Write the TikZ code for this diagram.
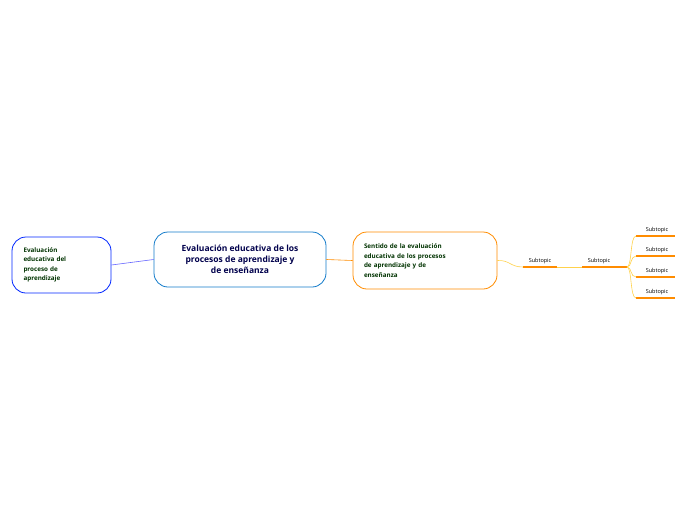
\documentclass[tikz,border=0pt]{standalone}
\usepackage{fontspec}
\setmainfont{Open Sans}
\begin{document}
\begin{tikzpicture}[x=1pt,y=-1pt,
 box/.style={draw,rounded corners=14pt,line width=0.8pt,fill=white},
 sub/.style={font=\fontsize{5.5}{6}\selectfont,inner sep=1pt,anchor=south},
 ul/.style={draw=orange!90!yellow,line width=1.3pt},
 cn/.style={draw=orange!50!yellow!70,line width=0.6pt}]
\useasboundingbox (0,0) rectangle (696,520);
\node[box,draw=cyan!60!blue,minimum width=172pt,minimum height=55pt,align=center,
 font=\bfseries\fontsize{8.5}{11}\selectfont,text=blue!30!black] (m) at (240,259.5)
 {Evaluación educativa de los\\procesos de aprendizaje y\\de enseñanza};
\node[box,draw=blue!85!cyan,minimum width=99pt,minimum height=56pt,text width=76pt,align=left,
 font=\bfseries\fontsize{6.3}{9.5}\selectfont,text=green!20!black] (l) at (61.5,265)
 {Evaluación\\educativa del\\proceso de\\aprendizaje};
\node[box,draw=orange!90!yellow,minimum width=144pt,minimum height=57pt,text width=122pt,align=left,
 font=\bfseries\fontsize{6.3}{9.5}\selectfont,text=green!20!black] (o) at (425,260.5)
 {Sentido de la evaluación\\educativa de los procesos\\de aprendizaje y de\\enseñanza};
\draw[blue!60,line width=0.6pt] (m.west) -- (l.east);
\draw[orange!90!yellow,line width=0.6pt] (m.east) -- (o.west);
\coordinate (s1a) at (523,267); \coordinate (s1b) at (557,267);
\coordinate (s2a) at (582,267); \coordinate (s2b) at (627,267);
\draw[ul] (s1a) -- (s1b); \node[sub] (t1) at (540,265) {Subtopic};
\draw[ul] (s2a) -- (s2b); \node[sub] (t2) at (599,265) {Subtopic};
\draw[cn] (o.east) .. controls (510,260) and (510,267) .. (s1a);
\draw[cn] (s1b) -- (s2a);
\foreach \i/\y in {a/236,b/256,c/277,d/298}{
 \coordinate (r\i) at (636,\y); \coordinate (e\i) at (675,\y);
 \draw[ul] (r\i) -- (e\i);
 \node[sub] (u\i) at (657,\y-2) {Subtopic};
 \draw[cn] (s2b) .. controls (632,267) and (630,\y) .. (r\i);
}
\end{tikzpicture}
\end{document}
